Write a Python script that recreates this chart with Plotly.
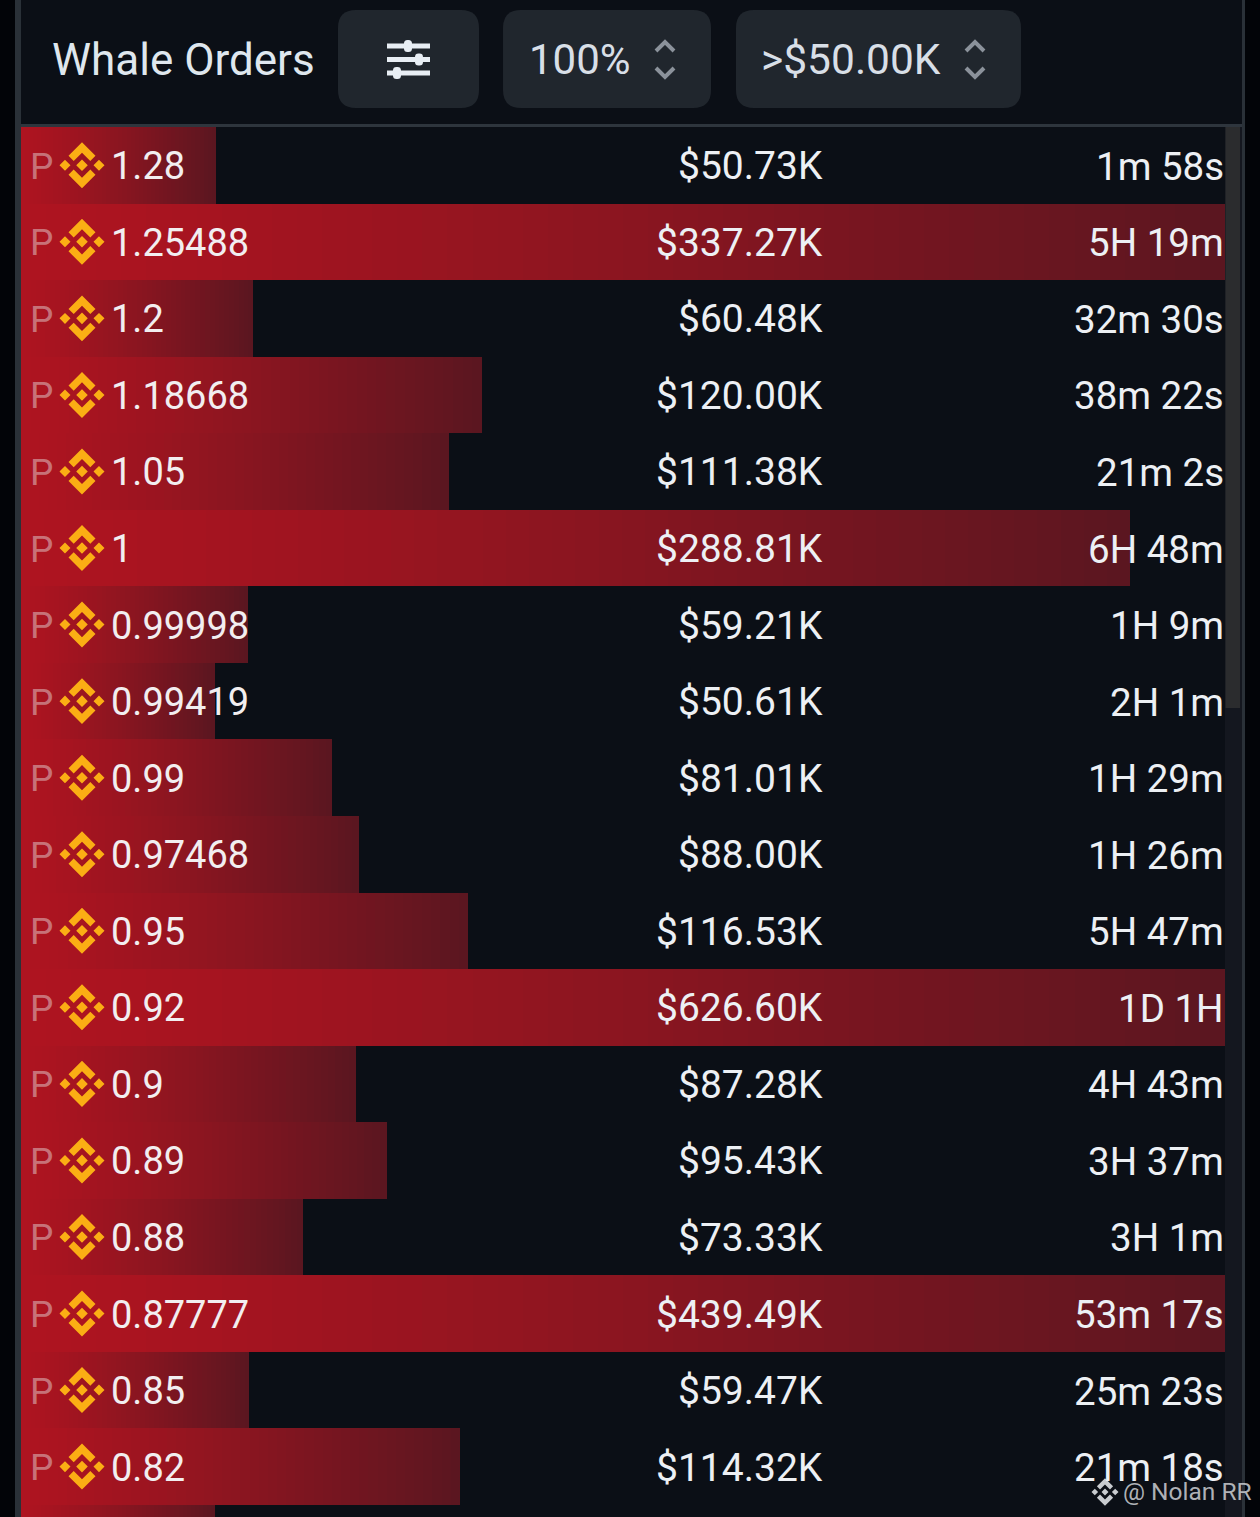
import plotly.graph_objects as go

W, H = 1260, 1517

# ---- data ----
prices = ["1.28", "1.25488", "1.2", "1.18668", "1.05", "1", "0.99998", "0.99419", "0.99",
          "0.97468", "0.95", "0.92", "0.9", "0.89", "0.88", "0.87777", "0.85", "0.82"]
amounts = [50.73, 337.27, 60.48, 120.00, 111.38, 288.81, 59.21, 50.61, 81.01,
           88.00, 116.53, 626.60, 87.28, 95.43, 73.33, 439.49, 59.47, 114.32, 50.5]
amount_labels = ["$50.73K", "$337.27K", "$60.48K", "$120.00K", "$111.38K", "$288.81K", "$59.21K",
                 "$50.61K", "$81.01K", "$88.00K", "$116.53K", "$626.60K", "$87.28K", "$95.43K",
                 "$73.33K", "$439.49K", "$59.47K", "$114.32K"]
ages = ["1m 58s", "5H 19m", "32m 30s", "38m 22s", "21m 2s", "6H 48m", "1H 9m", "2H 1m", "1H 29m",
        "1H 26m", "5H 47m", "1D 1H", "4H 43m", "3H 37m", "3H 1m", "53m 17s", "25m 23s", "21m 18s"]

AXIS_MAX = 313.6
FONT = "Roboto"
PANEL = "#0b0f16"
BTN = "#20262d"


def fx(x):
    return x / W


def fy(y):
    return 1 - y / H


def path_of(points):
    return "M" + " L".join(f"{fx(x):.5f},{fy(y):.5f}" for x, y in points) + " Z"


def open_path(points):
    return "M" + " L".join(f"{fx(x):.5f},{fy(y):.5f}" for x, y in points)


def round_rect(x0, y0, x1, y1, r):
    s = f"M{fx(x0 + r):.5f},{fy(y0):.5f} L{fx(x1 - r):.5f},{fy(y0):.5f} "
    s += f"Q{fx(x1):.5f},{fy(y0):.5f} {fx(x1):.5f},{fy(y0 + r):.5f} "
    s += f"L{fx(x1):.5f},{fy(y1 - r):.5f} Q{fx(x1):.5f},{fy(y1):.5f} {fx(x1 - r):.5f},{fy(y1):.5f} "
    s += f"L{fx(x0 + r):.5f},{fy(y1):.5f} Q{fx(x0):.5f},{fy(y1):.5f} {fx(x0):.5f},{fy(y1 - r):.5f} "
    s += f"L{fx(x0):.5f},{fy(y0 + r):.5f} Q{fx(x0):.5f},{fy(y0):.5f} {fx(x0 + r):.5f},{fy(y0):.5f} Z"
    return s


def rect(x0, y0, x1, y1, color, layer="below"):
    return dict(type="rect", xref="paper", yref="paper", x0=fx(x0), x1=fx(x1), y0=fy(y0), y1=fy(y1),
                fillcolor=color, line=dict(width=0), layer=layer)


def logo(cx, cy, k, color):
    polys = [
        [(0, -23), (13.5, -9.5), (8.3, -4.3), (0, -12.6), (-8.3, -4.3), (-13.5, -9.5)],
        [(0, 23), (13.5, 9.5), (8.3, 4.3), (0, 12.6), (-8.3, 4.3), (-13.5, 9.5)],
        [(0, -5.8), (5.8, 0), (0, 5.8), (-5.8, 0)],
        [(-17, -5.5), (-11.5, 0), (-17, 5.5), (-22.5, 0)],
        [(17, -5.5), (22.5, 0), (17, 5.5), (11.5, 0)],
    ]
    d = " ".join(path_of([(cx + a * k, cy + b * k) for a, b in poly]) for poly in polys)
    return dict(type="path", xref="paper", yref="paper", path=d, fillcolor=color,
                line=dict(width=0), layer="above")


def mix(t):
    a, b = (174, 20, 32), (90, 22, 32)
    t = t ** 1.25
    return "rgb(%d,%d,%d)" % tuple(round(a[i] + (b[i] - a[i]) * t) for i in range(3))


# ---- bars: each bar is a stack of slices so the fill fades along its drawn length ----
rows = list(range(len(amounts)))
drawn = [min(v, AXIS_MAX) for v in amounts]
N = 48
fig = go.Figure()
for k in range(N):
    fig.add_trace(go.Bar(
        y=rows, x=[d / N * 1.01 for d in drawn], base=[d * k / N for d in drawn],
        orientation="h", width=1.0,
        marker=dict(color=mix((k + 0.5) / N), line=dict(width=0)),
        showlegend=False, hoverinfo="skip",
    ))

shapes = [
    rect(0, 0, 15, H, "#020408"),
    rect(15, 0, 21, H, "#2a3138"),
    rect(1245, 0, W, H, "#020408"),
    rect(1242, 0, 1245, H, "#2a3138"),
    rect(1225, 127, 1242, H, "#14171f"),
    rect(1225.5, 127, 1240, 708, "#2b2c2e"),
    rect(21, 124, 1242, 127, "#2e353d"),
]
for x0, x1 in [(338, 479), (503, 711), (736, 1021)]:
    shapes.append(dict(type="path", xref="paper", yref="paper", path=round_rect(x0, 10, x1, 108, 18),
                       fillcolor=BTN, line=dict(width=0), layer="below"))

# slider icon
for y, knob in [(46, 408), (59.5, 419), (73, 397)]:
    shapes.append(dict(type="path", xref="paper", yref="paper",
                       path=open_path([(387, y), (430, y)]),
                       line=dict(color="#e8eef4", width=5), layer="above"))
    shapes.append(dict(type="path", xref="paper", yref="paper",
                       path=round_rect(knob - 4, y - 6, knob + 4, y + 6, 3.5),
                       fillcolor="#e8eef4", line=dict(width=0), layer="above"))

# up/down chevrons
for cx in (665, 975):
    for pts in ([(cx - 9, 51), (cx, 42), (cx + 9, 51)], [(cx - 9, 68), (cx, 77), (cx + 9, 68)]):
        shapes.append(dict(type="path", xref="paper", yref="paper", path=open_path(pts),
                           line=dict(color="#8b929b", width=4), layer="above"))

ROW_TOP, ROW_H = 127, 76.55
y_of = lambda i: ROW_TOP + (i + 0.5) * ROW_H
for i in range(len(prices)):
    shapes.append(logo(82, y_of(i), 1.0, "#fbae14"))
shapes.append(logo(1105, 1492, 0.6, "#c9ccd0"))

annotations = []


def label(x, y, text, size, color, anchor="left", yref="paper", yshift=0):
    annotations.append(dict(
        x=fx(x), xref="paper", y=y if yref != "paper" else fy(y), yref=yref, text=text, showarrow=False,
        xanchor=anchor, yanchor="middle", yshift=yshift, font=dict(family=FONT, size=size, color=color),
        align=anchor,
    ))


label(50, 60, "Whale Orders", 44, "#dfe7ee")
label(527, 60, "100%", 42, "#d8dfe7")
label(759, 60, ">$50.00K", 42.5, "#d8dfe7")

for i, (p, a, t) in enumerate(zip(prices, amount_labels, ages)):
    label(28, i, "P", 37, "rgba(235,235,235,0.45)", yref="y", yshift=-1)
    label(109, i, p, 38, "#f2eef0", yref="y", yshift=-1)
    label(825, i, a, 39, "#edf0f4", "right", yref="y", yshift=-1)
    label(1226, i, t, 38.5, "#edf0f4", "right", yref="y", yshift=-1)

label(1121, 1491, "@ Nolan RR", 24.5, "rgba(205,208,212,0.85)")

fig.update_layout(
    width=W, height=H, margin=dict(l=0, r=0, t=0, b=0, pad=0),
    paper_bgcolor=PANEL, plot_bgcolor=PANEL,
    barmode="overlay", bargap=0, showlegend=False,
    xaxis=dict(domain=[21 / W, 1225 / W], range=[0, AXIS_MAX], visible=False, fixedrange=True),
    yaxis=dict(domain=[0, 1 - ROW_TOP / H], range=[(H - ROW_TOP) / ROW_H - 0.5, -0.5], visible=False,
               fixedrange=True),
    shapes=shapes, annotations=annotations,
)

fig.write_html("out.html", config=dict(displayModeBar=False),
               post_script="document.body.style.margin='0';document.body.style.overflow='hidden';")
